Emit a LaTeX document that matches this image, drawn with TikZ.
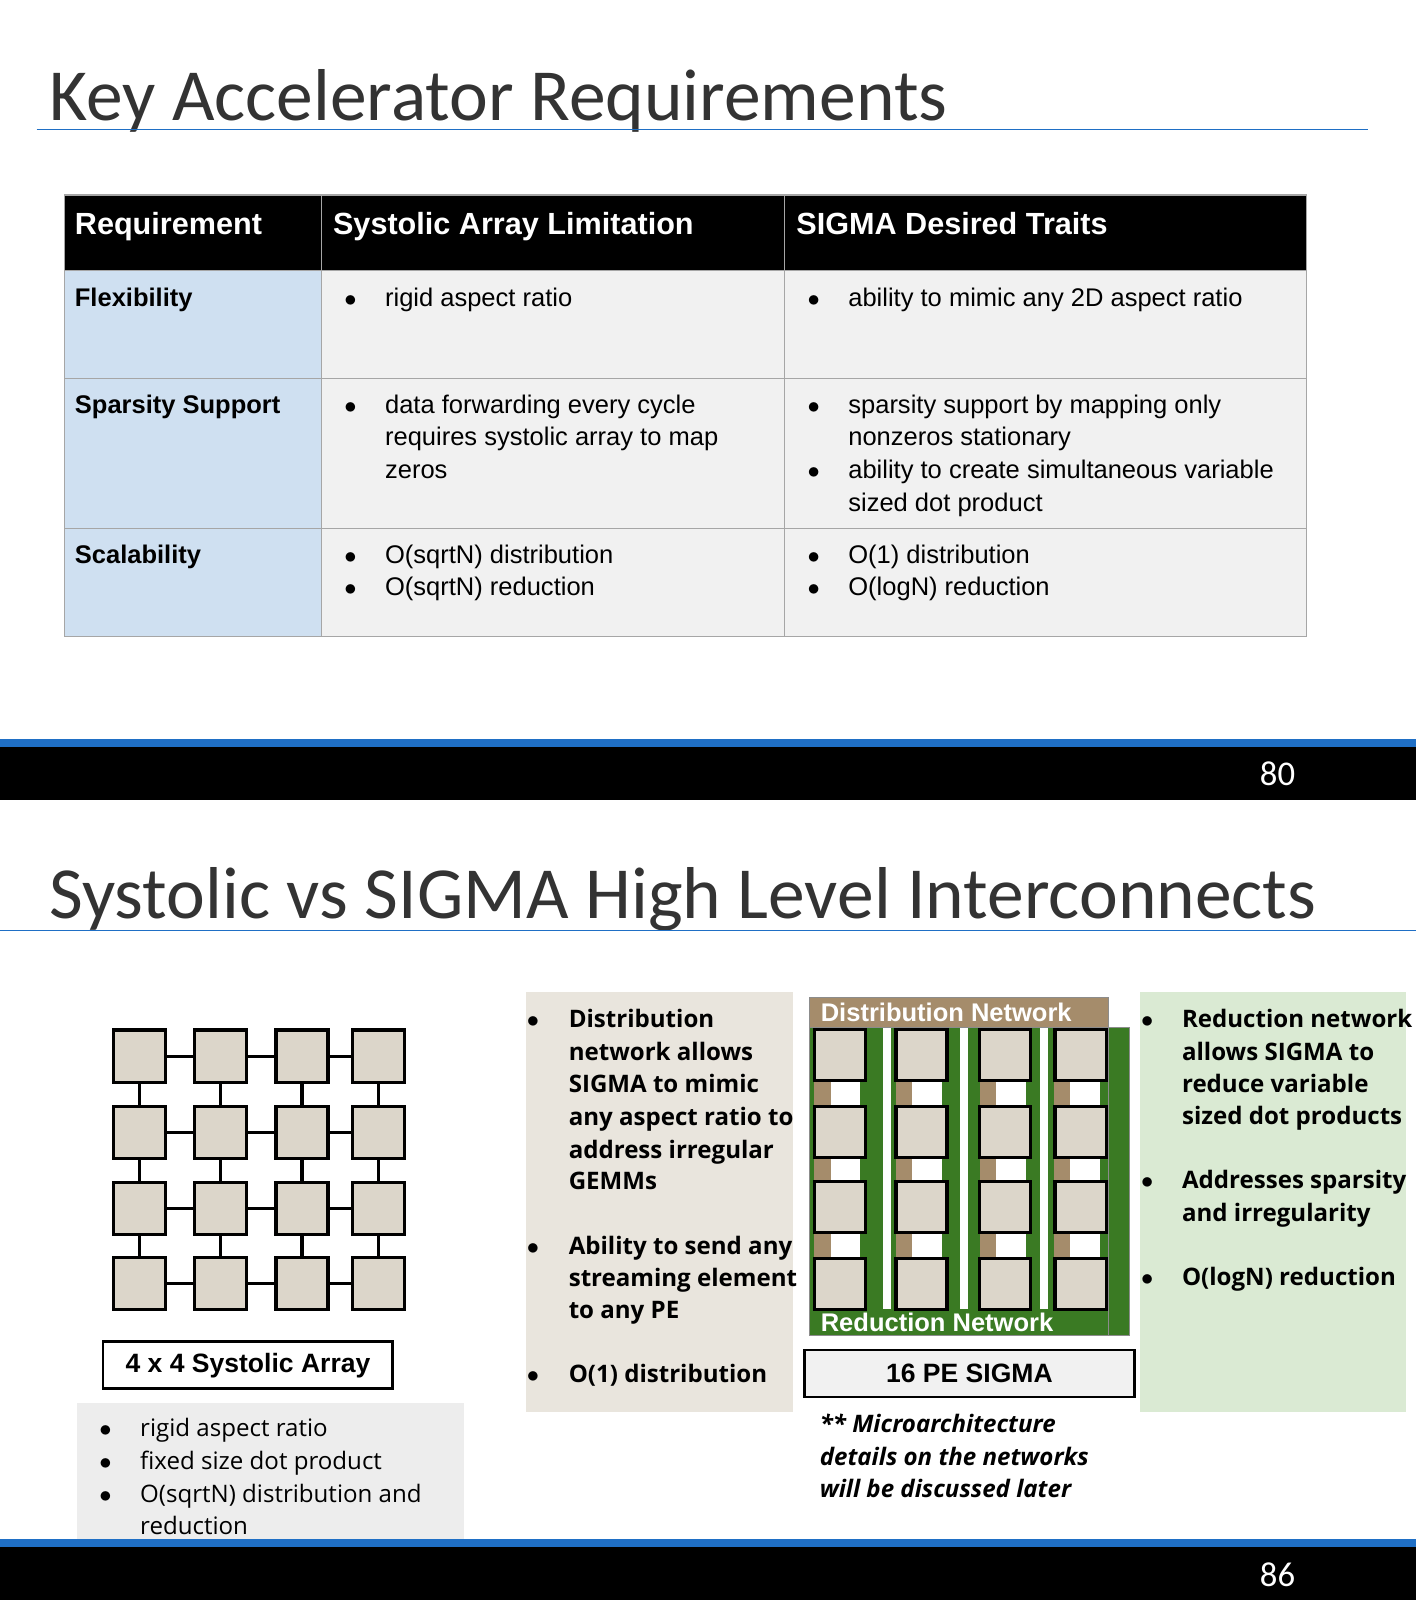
\documentclass[tikz,border=0pt]{standalone}
\usepackage{fontspec}
\setmainfont{Liberation Sans}
\newfontfamily\carl{Carlito}
\newfontfamily\osans{Open Sans}
\definecolor{ublue}{HTML}{1F6FC5}
\definecolor{lblue}{HTML}{CFE0F1}
\definecolor{lgrey}{HTML}{F1F1F1}
\definecolor{peF}{HTML}{DCD6CA}
\definecolor{beigebg}{HTML}{E9E5DD}
\definecolor{brownN}{HTML}{A58C6B}
\definecolor{greenN}{HTML}{3A7A23}
\definecolor{lgreen}{HTML}{DAEAD3}
\tikzset{
 tx/.style={anchor=base west,inner sep=0pt},
 tb/.style={tx,font=\fontsize{12.5}{16}\selectfont},
 th/.style={tx,font=\fontsize{15}{18}\selectfont\bfseries,text=white},
 ob/.style={tx,font=\osans\fontsize{11.8}{16}\selectfont\bfseries},
 orr/.style={tx,font=\osans\fontsize{11.8}{16}\selectfont},
 titl/.style={tx,font=\carl\fontsize{36}{40}\selectfont,text=black!80},
 pnum/.style={anchor=base,inner sep=0pt,font=\carl\fontsize{17}{20}\selectfont,text=white},
 pe/.style={draw=black,line width=1.6pt,fill=peF},
 lab/.style={draw=black,line width=1.4pt,fill=white,font=\fontsize{13}{16}\selectfont\bfseries,inner sep=0pt},
 cell/.style={draw=black!35,line width=0.6pt},
}
\begin{document}
\begin{tikzpicture}[x=0.5pt,y=-0.5pt]
\useasboundingbox (0,0) rectangle (1388,1568);
\fill[white] (0,0) rectangle (1388,1568);
% ===== slide 1
\node[titl] (t1) at (48,118) {Key Accelerator Requirements};
\draw[ublue,line width=0.8pt] (36,127) -- (1341,127);
\fill[black] (63,191) rectangle (1280,265);
\fill[lblue] (63,265) rectangle (315,624);
\fill[lgrey] (315,265) rectangle (1280,624);
\draw[cell] (63,265) rectangle (1280,624);
\draw[cell] (63,371) -- (1280,371) (63,518) -- (1280,518) (315,191) -- (315,624) (769,191) -- (769,624);
\draw[black!35,line width=0.6pt] (63,191) rectangle (1280,265);
\node[th] (h1) at (73,230) {Requirement};
\node[th] (h2) at (326,230) {Systolic Array Limitation};
\node[th] (h3) at (780,230) {SIGMA Desired Traits};
\node[tb,font=\fontsize{12.5}{16}\selectfont\bfseries] (r1) at (73,300) {Flexibility};
\node[tb,font=\fontsize{12.5}{16}\selectfont\bfseries] (r2) at (73,405) {Sparsity Support};
\node[tb,font=\fontsize{12.5}{16}\selectfont\bfseries] (r3) at (73,552) {Scalability};
\foreach \y/\t [count=\i] in {300/rigid aspect ratio,405/data forwarding every cycle,437/requires systolic array to map,469/zeros,552/O(sqrtN) distribution,584/O(sqrtN) reduction}{
  \node[tb] (a\i) at (377,\y) {\t};}
\foreach \y [count=\i] in {300,405,552,584}{\node[tb] (ab\i) at (337,\y) {$\bullet$};}
\foreach \y/\t [count=\i] in {300/ability to mimic any 2D aspect ratio,405/sparsity support by mapping only,437/nonzeros stationary,469/ability to create simultaneous variable,501/sized dot product,552/O(1) distribution,584/O(logN) reduction}{
  \node[tb] (b\i) at (831,\y) {\t};}
\foreach \y [count=\i] in {300,405,469,552,584}{\node[tb] (bb\i) at (791,\y) {$\bullet$};}
\fill[ublue] (0,724) rectangle (1388,732);
\fill[black] (0,732) rectangle (1388,784);
\node[pnum] (p80) at (1252,770) {80};
% ===== slide 2
\node[titl] (t2) at (48,900) {Systolic vs SIGMA High Level Interconnects};
\draw[ublue,line width=0.8pt] (0,912) -- (1388,912);
% systolic array
\foreach \r/\y in {1/1035,2/1110,3/1184,4/1258}{
  \foreach \c/\x in {1/137,2/216,3/296,4/371}{
    \coordinate (s\r\c) at (\x,\y);}}
\foreach \r in {1,2,3,4}{\draw[line width=1.6pt] (s\r1) -- (s\r4);}
\foreach \c in {1,2,3,4}{\draw[line width=1.6pt] (s1\c) -- (s4\c);}
\foreach \r in {1,2,3,4}{\foreach \c in {1,2,3,4}{
  \node[pe,minimum size=25.5pt,inner sep=0pt] (q\r\c) at (s\r\c) {};}}
\node[lab,minimum width=142pt,minimum height=23pt] (slab) at (243,1338) {4 x 4 Systolic Array};
\fill[black!7] (75,1375) rectangle (455,1508);
\foreach \y/\t [count=\i] in {1408/rigid aspect ratio,1440/fixed size dot product,1472/O(sqrtN) distribution and,1504/reduction}{
  \node[orr] (g\i) at (137,\y) {\t};}
\foreach \y [count=\i] in {1408,1440,1472}{\node[orr] (gb\i) at (97,\y) {$\bullet$};}
% beige box
\fill[beigebg] (515,972) rectangle (777,1384);
\foreach \y/\t [count=\i] in {1007/Distribution,1039/network allows,1071/SIGMA to mimic,1103/any aspect ratio to,1135/address irregular,1166/GEMMs,1229/Ability to send any,1261/streaming element,1292/to any PE,1355/O(1) distribution}{
  \node[ob] (d\i) at (557,\y) {\t};}
\foreach \y [count=\i] in {1007,1229,1355}{\node[ob] (db\i) at (516,\y) {$\bullet$};}
% SIGMA network
\fill[greenN] (793,1007) rectangle (1107,1309);
\fill[brownN] (793,978) rectangle (1086,1007);
\draw[black!45,line width=0.5pt] (793,978) rectangle (1086,1007);
\draw[black!45,line width=0.5pt] (793,1007) rectangle (1107,1309) (1086,1007) -- (1086,1309);
\foreach \L in {798,878,960,1033}{
  \fill[brownN] (\L,1007) rectangle (\L+16,1283);
  \foreach \g in {1059,1134,1208}{\fill[white] (\L+16,\g) rectangle (\L+45,\g+26);}}
\foreach \X in {865,941,1019}{\fill[white] (\X,1007) rectangle (\X+8,1283);}
\foreach \r/\y in {1/1034,2/1109,3/1183,4/1258}{
  \foreach \c/\x in {1/823,2/903,3/985,4/1059}{
    \node[pe,minimum size=25pt,inner sep=0pt] (n\r\c) at (\x,\y) {};}}
\node[tx,font=\fontsize{12.5}{15}\selectfont\bfseries,text=white] (dn) at (804,1001) {Distribution Network};
\node[tx,font=\fontsize{12.5}{15}\selectfont\bfseries,text=white] (rn) at (804,1305) {Reduction Network};
\node[lab,minimum width=162pt,minimum height=23pt,fill=lgrey] (slab2) at (950,1346) {16 PE SIGMA};
\foreach \y/\t [count=\i] in {1404/** Microarchitecture,1436/details on the networks,1468/will be discussed later}{
  \node[ob,font=\osans\fontsize{11.8}{16}\selectfont\bfseries\itshape] (m\i) at (803,\y) {\t};}
% green box
\fill[lgreen] (1117,972) rectangle (1378,1384);
\foreach \y/\t [count=\i] in {1007/Reduction network,1039/allows SIGMA to,1071/reduce variable,1102/sized dot products,1165/Addresses sparsity,1197/and irregularity,1260/O(logN) reduction}{
  \node[ob] (e\i) at (1158,\y) {\t};}
\foreach \y [count=\i] in {1007,1165,1260}{\node[ob] (eb\i) at (1118,\y) {$\bullet$};}
\fill[ublue] (0,1508) rectangle (1388,1516);
\fill[black] (0,1516) rectangle (1388,1568);
\node[pnum] (p86) at (1252,1555) {86};
\end{tikzpicture}
\end{document}
